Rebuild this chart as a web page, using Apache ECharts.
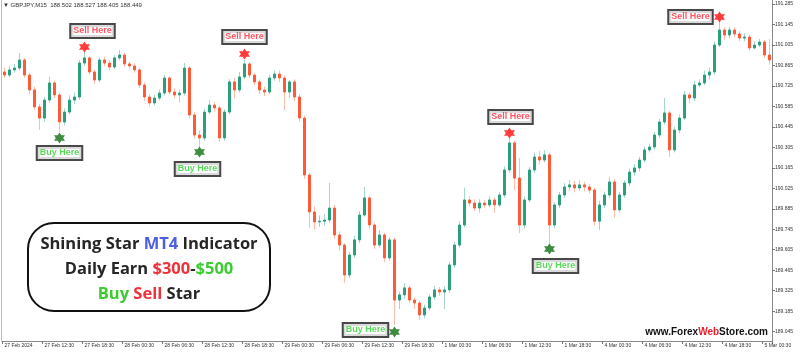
<!DOCTYPE html>
<html><head><meta charset="utf-8">
<script src="https://cdn.jsdelivr.net/npm/echarts@6/dist/echarts.min.js"></script>
<style>html,body{margin:0;padding:0;background:#fff}#c{width:800px;height:352px}</style>
</head><body><div id="c"></div>
<script>
// ---- data ----
const tickLabels = ["27 Feb 2024","27 Feb 12:30","27 Feb 18:30","28 Feb 00:30","28 Feb 06:30","28 Feb 12:30","28 Feb 18:30","29 Feb 00:30","29 Feb 06:30","29 Feb 12:30","29 Feb 18:30","1 Mar 00:30","1 Mar 06:30","1 Mar 12:30","1 Mar 18:30","4 Mar 00:30","4 Mar 06:30","4 Mar 12:30","4 Mar 18:30","5 Mar 00:30"];
const priceTicks = [189.045,189.185,189.325,189.465,189.605,189.745,189.885,190.025,190.165,190.305,190.445,190.585,190.725,190.865,191.005,191.145,191.285];
const firstOpen = 190.820;
const closes = [190.799,190.834,190.847,190.902,190.799,190.697,190.581,190.505,190.628,190.745,
190.663,190.478,190.546,190.628,190.649,190.881,190.916,190.820,190.765,190.902,
190.881,190.854,190.916,190.936,190.875,190.861,190.834,190.731,190.649,190.608,
190.642,190.676,190.779,190.683,190.663,190.676,190.847,190.526,190.389,190.369,
190.546,190.594,190.574,190.369,190.546,190.752,190.697,190.786,190.875,190.799,
190.752,190.697,190.683,190.779,190.806,190.779,190.683,190.752,190.649,190.505,
190.116,189.863,189.795,189.800,189.808,189.890,189.706,189.637,189.432,189.569,
189.672,189.842,189.959,189.774,189.637,189.706,189.549,189.672,189.261,189.296,
189.344,189.261,189.241,189.159,189.207,189.282,189.330,189.316,189.330,189.501,
189.637,189.774,189.945,189.924,189.890,189.924,189.911,189.945,189.911,189.979,
190.150,190.335,190.095,189.774,189.945,190.150,190.239,190.218,190.253,189.774,
189.911,189.979,190.034,190.048,190.027,190.048,190.034,190.013,189.800,189.911,
189.979,190.068,189.877,189.979,190.061,190.136,190.164,190.218,190.287,190.307,
190.389,190.478,190.540,190.287,190.423,190.505,190.663,190.642,190.731,190.745,
190.799,190.820,191.004,191.107,191.073,191.107,191.080,191.052,191.059,190.984,
191.004,191.025,190.936,190.902];
const highs = [190.850,190.860,190.875,190.950,190.915,190.815,190.720,190.600,190.650,190.786,
190.760,190.680,190.570,190.660,190.680,190.900,190.957,190.930,190.835,190.920,
190.925,190.900,190.935,190.970,190.950,190.890,190.880,190.850,190.750,190.670,
190.665,190.700,190.800,190.790,190.710,190.700,190.881,190.860,190.545,190.420,
190.570,190.628,190.615,190.590,190.565,190.770,190.780,190.820,190.902,190.890,
190.815,190.770,190.720,190.800,190.830,190.830,190.795,190.765,190.770,190.670,
190.520,190.130,189.900,189.840,189.850,190.061,189.910,189.730,189.650,189.590,
189.700,189.870,190.034,189.975,189.790,189.740,189.720,189.690,189.690,189.320,
189.378,189.360,189.280,189.260,189.230,189.300,189.360,189.350,189.355,189.520,
189.660,189.800,190.030,189.970,189.950,189.950,189.945,189.970,189.960,190.000,
190.175,190.369,190.350,190.232,189.970,190.170,190.270,190.280,190.287,190.270,
189.930,190.000,190.060,190.082,190.075,190.080,190.070,190.055,190.030,189.940,
190.000,190.100,190.085,190.000,190.080,190.160,190.190,190.240,190.310,190.330,
190.410,190.500,190.642,190.555,190.445,190.530,190.690,190.680,190.760,190.770,
190.830,190.850,191.030,191.162,191.125,191.130,191.125,191.100,191.085,191.075,
191.030,191.045,191.040,191.045];
const lows = [190.780,190.785,190.815,190.830,190.780,190.670,190.560,190.424,190.480,190.610,
190.640,190.410,190.455,190.530,190.600,190.630,190.860,190.800,190.740,190.750,
190.860,190.830,190.840,190.900,190.855,190.840,190.815,190.710,190.620,190.585,
190.590,190.625,190.660,190.665,190.640,190.610,190.660,190.500,190.365,190.307,
190.350,190.530,190.550,190.342,190.350,190.530,190.640,190.680,190.770,190.780,
190.730,190.670,190.655,190.670,190.760,190.750,190.560,190.640,190.620,190.480,
190.090,189.754,189.740,189.760,189.770,189.790,189.680,189.600,189.378,189.410,
189.550,189.650,189.830,189.750,189.610,189.620,189.520,189.530,189.091,189.200,
189.270,189.240,189.200,189.125,189.135,189.190,189.265,189.290,189.200,189.310,
189.480,189.620,189.760,189.900,189.870,189.860,189.890,189.895,189.856,189.895,
189.960,190.130,190.013,189.719,189.750,189.930,190.130,190.190,190.200,189.644,
189.750,189.890,189.960,190.010,190.000,190.010,190.005,189.990,189.770,189.740,
189.890,189.960,189.822,189.860,189.960,190.040,190.110,190.140,190.200,190.270,
190.290,190.370,190.460,190.239,190.270,190.400,190.490,190.608,190.620,190.715,
190.730,190.770,190.800,190.990,191.040,191.050,191.055,191.030,191.030,190.965,
190.975,190.990,190.915,190.870];
const sellIdx = [16, 48, 101, 143];
const sellPrice = [190.991, 190.943, 190.403, 191.196];
const buyIdx = [11, 39, 78, 109];
const buyPrice = [190.369, 190.273, 189.043, 189.610];

// ---- styles (label offsets relative to star) ----
const sellLabelOffsets = [[8,-16],[0,-17],[1,-16],[-29,0]];
const buyLabelOffsets = [[0,15],[-2,17],[-29,-2],[6,17]];

const opens = closes.map((c, i) => i === 0 ? firstOpen : closes[i - 1]);
const categories = closes.map((_, i) => String(i));
const wickData = closes.map((c, i) => [opens[i], c, lows[i], highs[i]]);
const bodyData = closes.map((c, i) => [opens[i], c, Math.min(opens[i], c), Math.max(opens[i], c)]);

const STAR = 'path://M10 0L12.887 5L18.66 5L15.77 10L18.66 15L12.887 15L10 20L7.113 15L1.34 15L4.23 10L1.34 5L7.113 5Z';
const boxLabel = (txt, col, off) => ({
  show: true, formatter: txt, position: 'inside', offset: off,
  color: col, fontFamily: 'Liberation Sans', fontWeight: 'bold', fontSize: 9, lineHeight: 9,
  textBorderWidth: 0, textShadowBlur: 0,
  backgroundColor: '#fff', borderColor: '#1a1a1a', borderWidth: 2, padding: [2, 2, 1, 2]
});
const F = 'Open Sans';
const rs = (c) => ({ fill: c, fontSize: 16.5, fontWeight: 'bold', fontFamily: F });

const chart = echarts.init(document.getElementById('c'), null, { renderer: 'canvas' });
chart.setOption({
  animation: false,
  backgroundColor: '#fff',
  grid: { left: 2, right: 28, top: 0, bottom: 11 },
  xAxis: {
    type: 'category', data: categories, boundaryGap: true,
    axisLine: { show: true, lineStyle: { color: '#8a8a8a', width: 1 } },
    axisTick: { show: true, interval: 7, length: 3, lineStyle: { color: '#777' } },
    axisLabel: { interval: 7, formatter: (v, i) => tickLabels[i / 8] || '', align: 'left',
      fontSize: 5, color: '#333', margin: 2, fontFamily: 'Liberation Sans' },
    splitLine: { show: false }
  },
  yAxis: {
    type: 'value', position: 'right', min: 188.981, max: 191.312, scale: true,
    axisLine: { show: true, lineStyle: { color: '#8a8a8a' } },
    axisTick: { show: true, customValues: priceTicks, length: 3, lineStyle: { color: '#777' } },
    axisLabel: { customValues: priceTicks, formatter: v => v.toFixed(3), fontSize: 5, color: '#333',
      margin: 3, fontFamily: 'Liberation Sans' },
    splitLine: { show: false }
  },
  series: [
    { type: 'candlestick', data: wickData, barWidth: 1, silent: true, z: 1,
      itemStyle: { color: '#a3d7c9', color0: '#ffbcaa', borderColor: '#a3d7c9', borderColor0: '#ffbcaa', borderWidth: 1 } },
    { type: 'candlestick', data: bodyData, barWidth: 3, silent: true, z: 2,
      itemStyle: { color: '#2b9e7c', color0: '#ff5a36', borderColor: '#2b9e7c', borderColor0: '#ff5a36', borderWidth: 1 } },
    { type: 'scatter', symbol: STAR, symbolSize: 11, z: 5,
      itemStyle: { color: '#ff0a0a' },
      data: sellIdx.map((ix, k) => ({ value: [ix, sellPrice[k]], label: boxLabel('Sell Here', '#ff2a3a', sellLabelOffsets[k]) })) },
    { type: 'scatter', symbol: STAR, symbolSize: 11, z: 5,
      itemStyle: { color: '#0e6e12' },
      data: buyIdx.map((ix, k) => ({ value: [ix, buyPrice[k]], label: boxLabel('Buy Here', '#2fd22f', buyLabelOffsets[k]) })) }
  ],
  graphic: [
    { type: 'line', shape: { x1: 1.5, y1: 0, x2: 1.5, y2: 341 }, style: { stroke: '#b8bcc8', lineWidth: 1 } },
    { type: 'text', x: 3, y: 2, style: { text: '\u25BC GBPJPY,M15  188.502 188.527 188.405 188.449', fontSize: 6, fill: '#333', fontFamily: 'Liberation Sans' } },
    { type: 'rect', shape: { x: 28, y: 223, width: 242, height: 88, r: 26 }, style: { fill: '#fff', stroke: '#111', lineWidth: 2 } },
    { type: 'text', x: 149, y: 244, style: { text: '{d|Shining Star }{b|MT4}{d| Indicator}', align: 'center', verticalAlign: 'middle',
      rich: { d: rs('#262626'), b: rs('#4f5ee0') } } },
    { type: 'text', x: 149, y: 269, style: { text: '{d|Daily Earn }{r|$300}{d|-}{g|$500}', align: 'center', verticalAlign: 'middle',
      rich: { d: rs('#262626'), r: rs('#f2303a'), g: rs('#3ccc32') } } },
    { type: 'text', x: 149, y: 294, style: { text: '{g|Buy }{r|Sell }{d|Star}', align: 'center', verticalAlign: 'middle',
      rich: { d: rs('#262626'), r: rs('#f2303a'), g: rs('#3ccc32') } } },
    { type: 'text', x: 768, y: 332, style: { text: '{k|www.Forex}{r|Web}{k|Store.com}', align: 'right', verticalAlign: 'middle',
      rich: { k: { fill: '#111', fontSize: 10, fontWeight: 'bold', fontFamily: 'Liberation Sans' }, r: { fill: '#e8202a', fontSize: 10, fontWeight: 'bold', fontFamily: 'Liberation Sans' } } } }
  ]
});
</script></body></html>
